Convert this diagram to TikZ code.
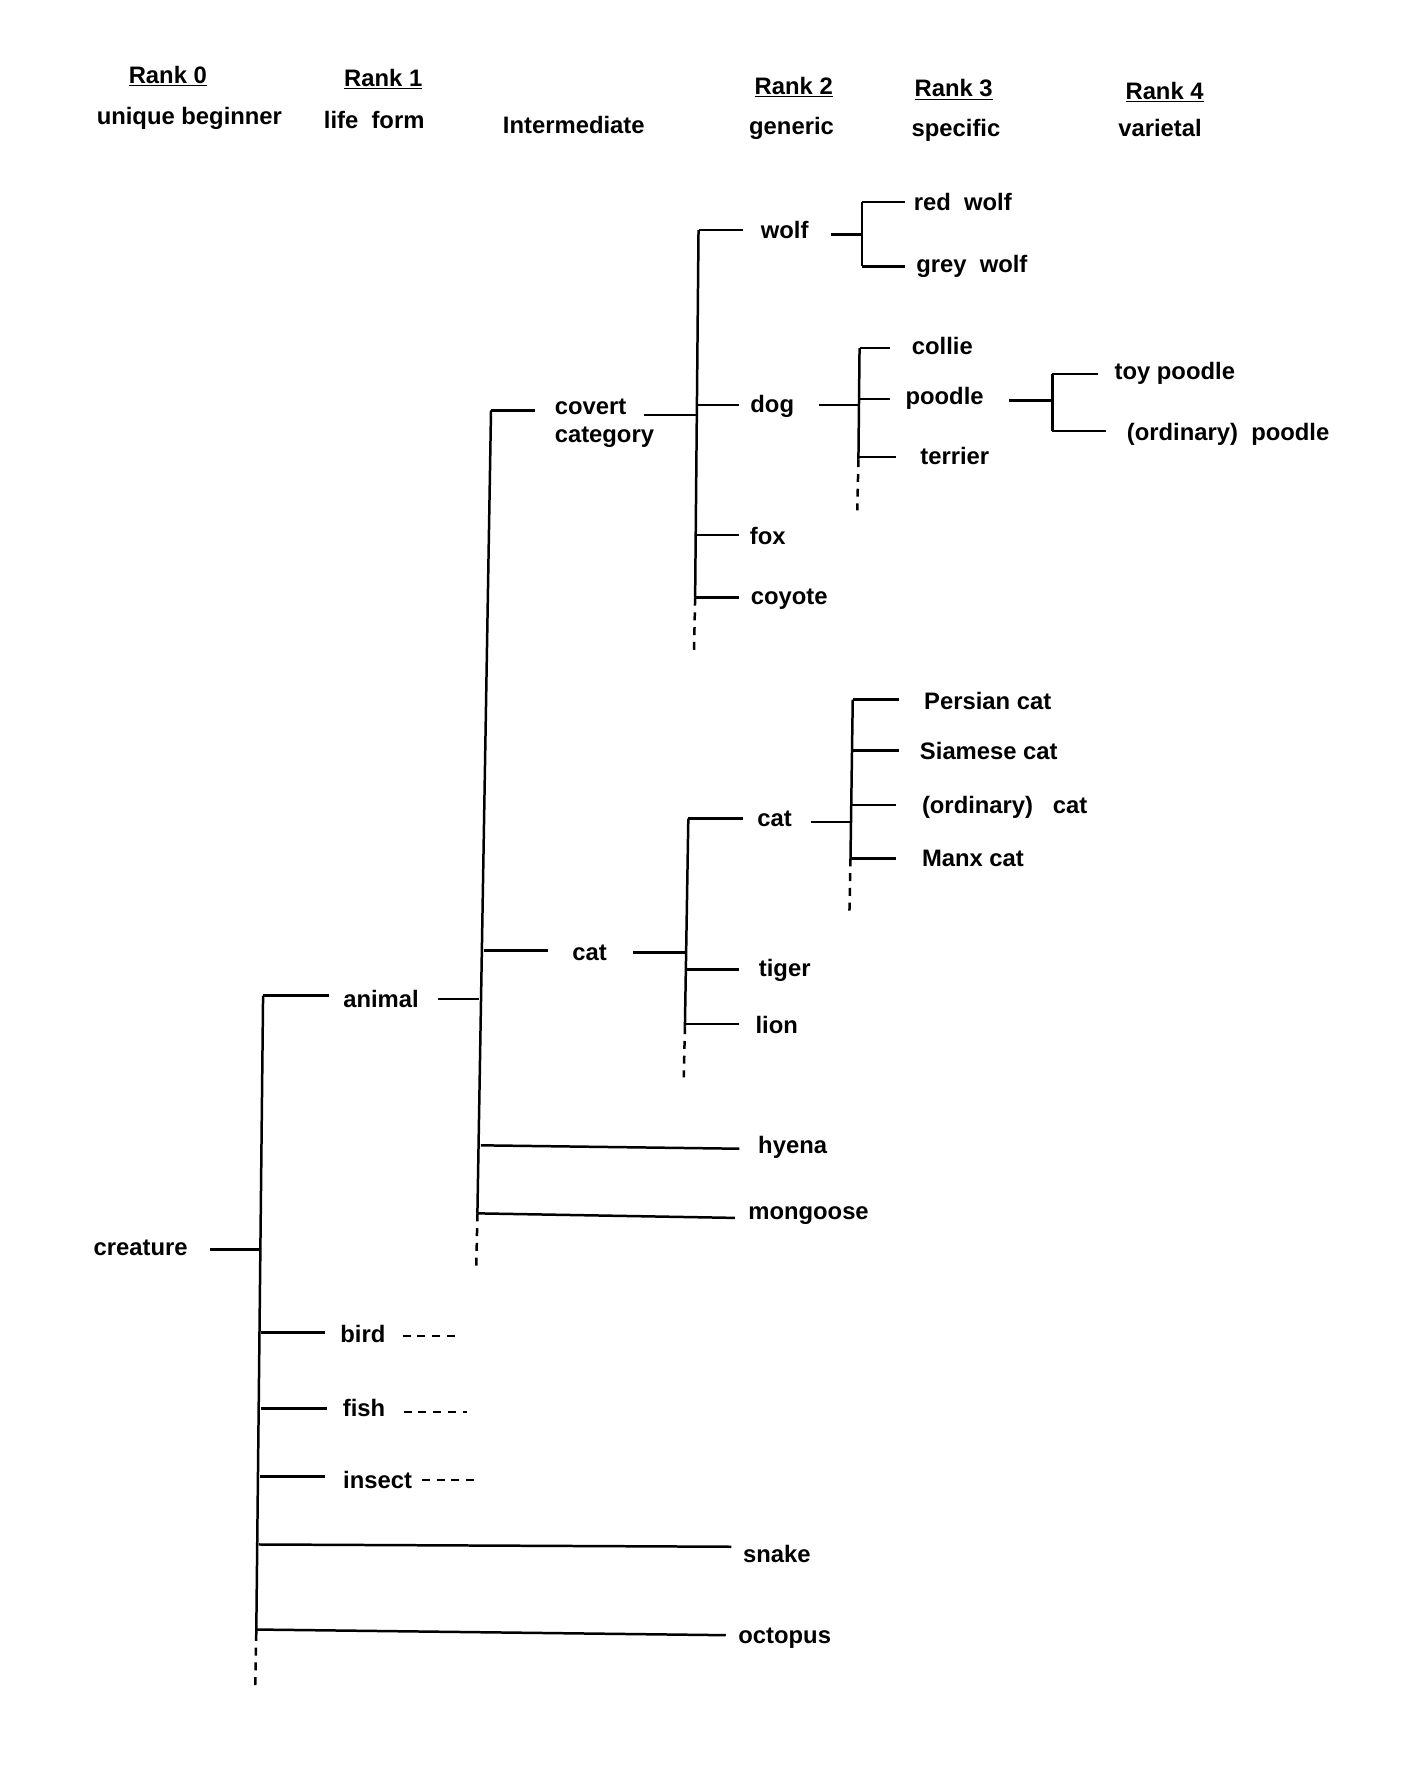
\documentclass[tikz,border=0pt]{standalone}
\usepackage{fontspec}
\setmainfont{Liberation Sans}
\begin{document}
\begin{tikzpicture}[x=1pt,y=-1pt,line width=2.2pt,
  t/.style={font=\fontsize{21}{25}\selectfont\bfseries,inner sep=1pt},
  h/.style={t,align=center},
  d/.style={dash pattern=on 7pt off 6pt}]
\useasboundingbox (0,0) rectangle (1240,1560);
% headers
\node[h] (r0) at (148,67) {\underline{Rank 0}};
\node[h] (u0) at (167,104) {unique beginner};
\node[h] (r1) at (338,70) {\underline{Rank 1}};
\node[h] (u1) at (330,106) {life\ \ form};
\node[h] (im) at (506,110) {Intermediate};
\node[h] (r2) at (700,77) {\underline{Rank 2}};
\node[h] (u2) at (698,113) {generic};
\node[h] (r3) at (841,79) {\underline{Rank 3}};
\node[h] (u3) at (843,115) {specific};
\node[h] (r4) at (1027,81) {\underline{Rank 4}};
\node[h] (u4) at (1023,113) {varietal};
% main trunk
\draw (232,878) -- (226,1440);
\draw[d] (226,1440) -- (225,1490);
\node[t] (creature) at (124,1100) {creature};
\draw (185,1102) -- (229,1102);
\node[t] (animal) at (336,881) {animal};
\draw (232,878) -- (290,878);
\draw (386,881) -- (422,881);
\node[t] (bird) at (320,1176) {bird};
\draw (230,1175) -- (287,1175); \draw[d] (355,1178) -- (402,1178);
\node[t] (fish) at (321,1242) {fish};
\draw (230,1242) -- (288,1242); \draw[d] (356,1245) -- (412,1245);
\node[t] (insect) at (333,1305) {insect};
\draw (229,1302) -- (287,1302); \draw[d] (372,1305) -- (418,1305);
\node[t] (snake) at (685,1370) {snake};
\draw (228,1362) -- (645,1364);
\node[t] (octopus) at (692,1445) {octopus};
\draw (226,1437) -- (640,1442);
% animal trunk
\draw (433,362) -- (421,1070);
\draw[d] (421,1070) -- (420,1118);
\draw (433,362) -- (472,362);
\node[t,align=left] (covert) at (533,373) {covert\\category};
\draw (568,366) -- (615,366);
\node[t] (catI) at (520,840) {cat};
\draw (427,838) -- (483,838); \draw (558,840) -- (605,840);
\node[t] (hyena) at (699,1012) {hyena};
\draw (424,1010) -- (652,1013);
\node[t] (mongoose) at (713,1072) {mongoose};
\draw (421,1070) -- (648,1074);
% covert trunk
\draw (616,203) -- (613,527);
\draw[d] (613,527) -- (612,575);
\node[t] (wolf) at (692,203) {wolf};
\draw (616,203) -- (655,203); \draw (733,207) -- (760,207);
\draw (760,178) -- (760,235);
\node[t] (redwolf) at (849,178) {red\ \ wolf};
\draw (760,178) -- (798,178);
\node[t] (greywolf) at (857,235) {grey\ \ wolf};
\draw (760,235) -- (798,235);
\node[t] (dog) at (681,358) {dog};
\draw (615,357) -- (652,357); \draw (722,357) -- (757,357);
\draw (758,307) -- (757,405);
\draw[d] (757,405) -- (756,450);
\node[t] (collie) at (831,305) {collie};
\draw (758,307) -- (785,307);
\node[t] (poodle) at (833,351) {poodle};
\draw (757,352) -- (785,352);
\node[t] (terrier) at (842,402) {terrier};
\draw (757,403) -- (790,403);
\draw (890,353) -- (928,353);
\draw (928,330) -- (928,380);
\node[t] (toyp) at (1036,329) {toy poodle};
\draw (928,330) -- (968,330);
\node[t] (ordp) at (1083,383) {(ordinary)\ \ poodle};
\draw (928,380) -- (975,380);
\node[t] (fox) at (677,473) {fox};
\draw (614,472) -- (652,472);
\node[t] (coyote) at (696,528) {coyote};
\draw (613,527) -- (652,527);
% cat trunk
\draw (607,722) -- (604,905);
\draw[d] (604,905) -- (603,950);
\node[t] (cat2) at (683,722) {cat};
\draw (607,722) -- (655,722); \draw (715,725) -- (750,725);
\draw (752,617) -- (750,757);
\draw[d] (750,757) -- (749,808);
\node[t] (persian) at (871,618) {Persian cat};
\draw (752,617) -- (793,617);
\node[t] (siamese) at (872,662) {Siamese cat};
\draw (751,662) -- (793,662);
\node[t] (ordc) at (886,712) {(ordinary)\ \ \ cat};
\draw (751,710) -- (790,710);
\node[t] (manx) at (858,757) {Manx cat};
\draw (750,757) -- (790,757);
\node[t] (tiger) at (692,856) {tiger};
\draw (605,855) -- (652,855);
\node[t] (lion) at (685,904) {lion};
\draw (604,903) -- (652,903);
\end{tikzpicture}
\end{document}
